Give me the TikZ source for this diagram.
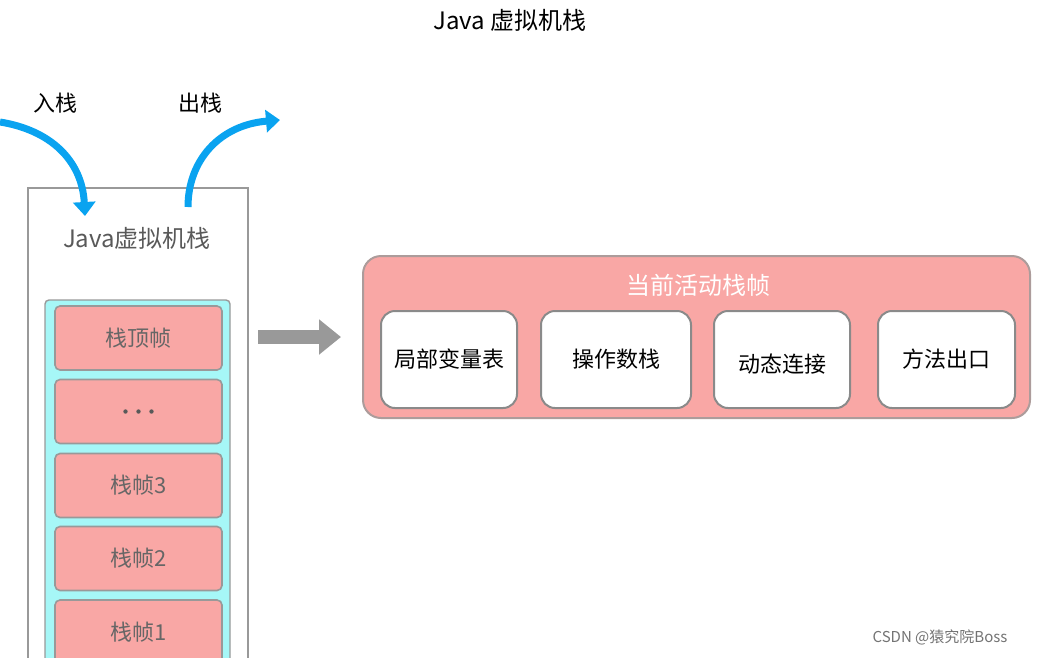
\documentclass[tikz,border=0pt]{standalone}
\usepackage{fontspec}
\setmainfont{Noto Sans CJK SC}
\usetikzlibrary{arrows.meta}
\definecolor{fr}{HTML}{F9A7A5}
\definecolor{cy}{HTML}{A6F7F7}
\definecolor{bl}{HTML}{0AA3F0}
\definecolor{gr}{HTML}{999999}
\tikzset{x=1pt,y=-1pt,
 frame/.style={draw=gr,line width=1.6pt,fill=fr,rounded corners=5pt},
 inbox/.style={draw=gr!90!black,line width=2pt,fill=white,rounded corners=14pt},
 lbl/.style={font=\fontsize{22}{22}\selectfont,text=black!80},
 barrow/.style={draw=bl,line width=7pt,-{Triangle[length=14pt,width=22pt]}}}
\begin{document}
\begin{tikzpicture}
\useasboundingbox (0,0) rectangle (1039,657);
\begin{scope}
\clip (0,0) rectangle (1039,657);
\node[font=\fontsize{24}{24}\selectfont] (title) at (510,20) {Java 虚拟机栈};
\draw[draw=gr,line width=1.2pt] (28,188) rectangle (248,680);
\node[font=\fontsize{24}{24}\selectfont,text=black!65] (jvm) at (137,238) {Java虚拟机栈};
\draw[draw=gr,line width=1.4pt,fill=cy,rounded corners=4pt] (45,300) rectangle (230,690);
\node[frame,minimum width=167pt,minimum height=64pt,lbl,text=black!60] (f0) at (138.5,338) {栈顶帧};
\node[frame,minimum width=167pt,minimum height=64pt] (f1) at (138.5,411.5) {};
\foreach \dx in {-13,0,13} \fill[black!65] ([xshift=\dx pt]f1.center) circle (2.2pt);
\node[frame,minimum width=167pt,minimum height=64pt,lbl,text=black!60] (f3) at (138.5,485.5) {栈帧3};
\node[frame,minimum width=167pt,minimum height=64pt,lbl,text=black!60] (f2) at (138.5,558.5) {栈帧2};
\node[frame,minimum width=167pt,minimum height=64pt,lbl,text=black!60] (f4) at (138.5,632) {栈帧1};
\end{scope}
\node[lbl,text=black] (in) at (55,103) {入栈};
\node[lbl,text=black] (out) at (200,103) {出栈};
\coordinate (ina) at (0,122);
\coordinate (inb) at (85,216);
\coordinate (outa) at (188,207);
\coordinate (outb) at (280,120);
\draw[barrow] (ina) .. controls (50,130) and (82,160) .. (inb);
\draw[barrow] (outa) .. controls (188,160) and (220,125) .. (outb);
\node[draw=gr!80!fr,line width=2pt,fill=fr,rounded corners=18pt,minimum width=667pt,minimum height=162pt] (cur) at (696.5,337) {};
\node[font=\fontsize{24}{24}\selectfont,text=white] (curt) at (698,285) {当前活动栈帧};
\node[inbox,minimum width=136pt,minimum height=97pt,lbl,text=black] (b1) at (449,359.5) {局部变量表};
\node[inbox,minimum width=150pt,minimum height=97pt,lbl,text=black] (b2) at (616,359.5) {操作数栈};
\node[inbox,minimum width=136pt,minimum height=97pt] (b3) at (782,359.5) {};
\node[lbl,text=black] (b3t) at (782,364) {动态连接};
\node[inbox,minimum width=137pt,minimum height=97pt,lbl,text=black] (b4) at (946.5,359.5) {方法出口};
\coordinate (ga) at (258,337);
\coordinate (gb) at (341,337);
\draw[draw=gr,line width=14pt,-{Triangle[length=22pt,width=34pt]}] (ga) -- (gb);
\node[font=\fontsize{15}{15}\selectfont,text=black!55] (wm) at (940,637) {CSDN @猿究院Boss};
\end{tikzpicture}
\end{document}
